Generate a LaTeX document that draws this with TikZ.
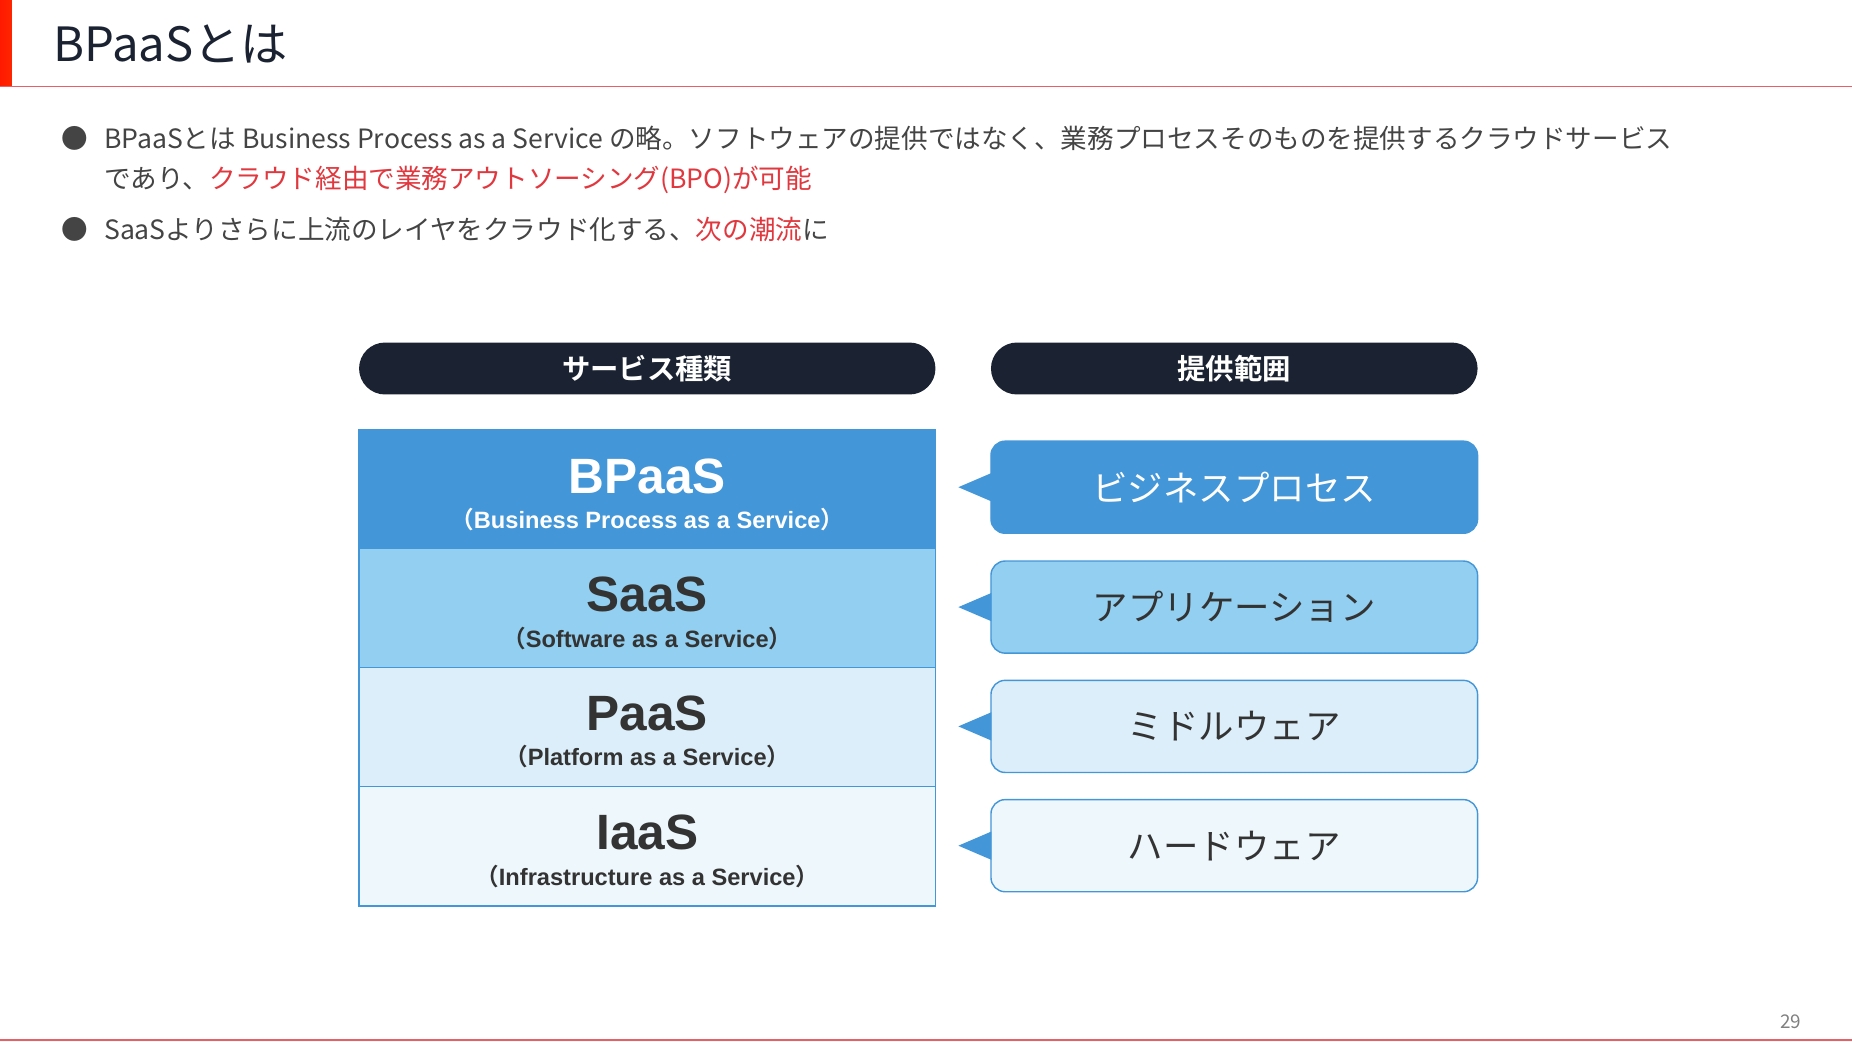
\documentclass[tikz,border=0pt]{standalone}
\usepackage{fontspec}
\setmainfont{Noto Sans CJK JP}
\newfontfamily\jpb{Noto Sans CJK JP Bold}
\newfontfamily\lat[Scale=1]{Liberation Sans}
\definecolor{navy}{HTML}{1B2333}
\definecolor{blue1}{HTML}{4396D8}
\definecolor{blue2}{HTML}{92CFF0}
\definecolor{blue3}{HTML}{DCEEF9}
\definecolor{blue4}{HTML}{EEF7FC}
\definecolor{redt}{HTML}{E0383E}
\definecolor{txt}{HTML}{444444}
\definecolor{dk}{HTML}{333333}
\tikzset{
 pill/.style={fill=navy,rounded corners=22pt,text=white,font=\jpb\fontsize{24}{28}\selectfont},
 layer/.style={draw=blue1,line width=1.2pt,minimum width=488pt,minimum height=101pt,inner sep=0pt},
 scope/.style={draw=blue1,line width=1.2pt,rounded corners=12pt,minimum width=412pt,minimum height=78pt,inner sep=0pt,font=\fontsize{30}{34}\selectfont},
 ptr/.style={fill=blue1,draw=none},
}
\begin{document}
\begin{tikzpicture}[x=1pt,y=-1pt]
\useasboundingbox (0,0) rectangle (1568,882);
\fill[left color=red!80!orange,right color=red!70!orange] (0,0) rectangle (10,73);
\draw[redt!80,line width=1pt] (0,73.5) -- (1568,73.5);
\draw[redt!80,line width=1.5pt] (0,880.5) -- (1568,880.5);
\node[anchor=base west,text=navy,font=\fontsize{40}{44}\selectfont,inner sep=0] (title) at (45,52) {BPaaSとは};
\tikzset{bt/.style={anchor=base west,inner sep=0,text=txt,font=\fontsize{22.5}{26}\selectfont}}
\node[bt] (b1) at (52,126) {●};
\node[bt] (l1) at (88,126) {BPaaSとは Business Process as a Service の略。ソフトウェアの提供ではなく、業務プロセスそのものを提供するクラウドサービス};
\node[bt] (l2) at (88,160) {であり、\textcolor{redt}{クラウド経由で業務アウトソーシング(BPO)が可能}};
\node[bt] (b2) at (52,203) {●};
\node[bt] (l3) at (88,203) {SaaSよりさらに上流のレイヤをクラウド化する、\textcolor{redt}{次の潮流}に};
\node[pill,minimum width=488pt,minimum height=44pt] (h1) at (548,312) {サービス種類};
\node[pill,minimum width=412pt,minimum height=44pt] (h2) at (1045,312) {提供範囲};
\foreach \n/\y/\c/\t/\tt/\s in {bp/414.5/blue1/white/BPaaS/Business Process as a Service,
 sa/515/blue2/dk/SaaS/Software as a Service,
 pa/615.5/blue3/dk/PaaS/Platform as a Service,
 ia/716.5/blue4/dk/IaaS/Infrastructure as a Service}{
 \node[layer,fill=\c,text=\t] (\n) at (548,\y) {};
 \node[text=\t,font=\jpb\fontsize{42}{46}\selectfont,anchor=base,inner sep=0] (\n t) at (548,\y+3) {\lat\bfseries \tt};
 \node[text=\t,font=\jpb\fontsize{20}{24}\selectfont,anchor=base,inner sep=0] (\n s) at (548,\y+33) {（{\lat\bfseries \s}）};
}
\foreach \n/\y/\c/\t/\w in {r1/412.5/blue1/white/ビジネスプロセス,
 r2/514/blue2/dk/アプリケーション,
 r3/615/blue3/dk/ミドルウェア,
 r4/716/blue4/dk/ハードウェア}{
 \node[scope,fill=\c,text=\t] (\n) at (1045,\y) {\w};
 \fill[ptr] (\n.west) ++(1,-12) -- ++(-28,12) -- ++(28,12) -- cycle;
}
\node[anchor=base east,text=gray,font=\fontsize{16}{18}\selectfont,inner sep=0] (pg) at (1525,871) {29};
\end{tikzpicture}
\end{document}
